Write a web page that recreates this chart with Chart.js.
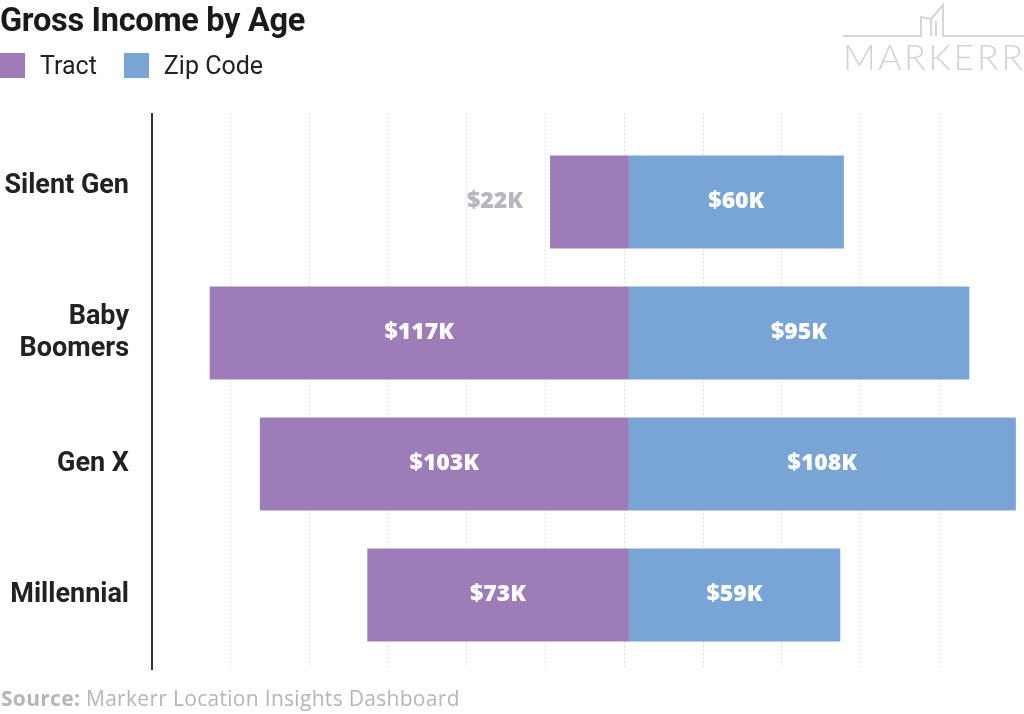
<!DOCTYPE html>
<html>
<head>
<meta charset="utf-8">
<script src="https://cdn.jsdelivr.net/npm/chart.js@4/dist/chart.umd.min.js"></script>
<style>
  html, body { margin: 0; padding: 0; background: #fff; }
  body { width: 1024px; height: 714px; position: relative; overflow: hidden; font-family: Roboto, sans-serif; }
  #chart { position: absolute; left: 0; top: 0; }
  .title { position: absolute; left: 0; top: 1px; font: 700 32.5px Roboto; color: #1a1a1a; letter-spacing: -0.3px; }
  .legend { position: absolute; left: 0; top: 51px; display: flex; align-items: center; font: 400 25px Roboto; color: #222; }
  .legend .sw { width: 25px; height: 25px; display: inline-block; margin-right: 15px; }
  .legend .item { display: flex; align-items: center; margin-right: 27px; }
  .source { position: absolute; left: 1px; top: 684px; font: 400 21px "Open Sans"; letter-spacing: 0.3px; color: #b3b6bb; }
  .source b { font-weight: 700; }
  #logo { position: absolute; left: 836px; top: 0; }
</style>
</head>
<body>
<canvas id="chart" width="1024" height="714"></canvas>
<div class="title">Gross Income by Age</div>
<div class="legend" id="legend"></div>
<svg id="logo" width="188" height="80" viewBox="836 0 188 80">
  <path d="M843,36 H921 V17 L931,19 V36 M931,19 L943,5 V36 H1024 M936,21 V36" fill="none" stroke="#d6d6d6" stroke-width="2"/>
  <text x="843" y="70" textLength="180" lengthAdjust="spacing" font-family="Lato" font-weight="300" font-size="36" fill="#d3d3d3">MARKERR</text>
</svg>
<div class="source"><b>Source:</b> Markerr Location Insights Dashboard</div>
<script>
// Data
const categories = [["Silent Gen", ""], ["Baby", "Boomers"], "Gen X", "Millennial"];
const tractValues = [22, 117, 103, 73];
const zipValues = [60, 95, 108, 59];
const seriesNames = ["Tract", "Zip Code"];
const seriesColors = ["#9e7cb8", "#78a4d6"];

// HTML legend
const legend = document.getElementById("legend");
seriesNames.forEach((name, i) => {
  const item = document.createElement("div");
  item.className = "item";
  item.innerHTML = '<span class="sw" style="background:' + seriesColors[i] + '"></span>' + name;
  legend.appendChild(item);
});

// Value labels inside the bars (outside when the bar is too short)
const valueLabels = {
  id: "valueLabels",
  afterDatasetsDraw(chart) {
    const ctx = chart.ctx;
    ctx.save();
    ctx.font = '800 23px "Open Sans"';
    ctx.textBaseline = "middle";
    chart.data.datasets.forEach((ds, di) => {
      const meta = chart.getDatasetMeta(di);
      meta.data.forEach((bar, i) => {
        const text = "$" + Math.abs(ds.data[i].x) + "K";
        const w = ctx.measureText(text).width;
        const barW = Math.abs(bar.x - bar.base);
        if (barW > w + 40) {
          ctx.fillStyle = "#ffffff";
          ctx.textAlign = "center";
          ctx.fillText(text, (bar.x + bar.base) / 2, bar.y - 1);
        } else {
          ctx.fillStyle = "#b5b8bd";
          ctx.textAlign = "right";
          ctx.fillText(text, Math.min(bar.x, bar.base) - 27, bar.y - 1);
        }
      });
    });
    ctx.restore();
  }
};

new Chart(document.getElementById("chart"), {
  type: "bar",
  data: {
    datasets: [
      {
        label: seriesNames[0],
        data: tractValues.map((v, i) => ({ x: -v, y: i })),
        backgroundColor: seriesColors[0]
      },
      {
        label: seriesNames[1],
        data: zipValues.map((v, i) => ({ x: v, y: i })),
        backgroundColor: seriesColors[1]
      }
    ]
  },
  options: {
    responsive: false,
    animation: false,
    indexAxis: "y",
    barPercentage: 0.71,
    categoryPercentage: 1,
    layout: { padding: { top: 114, bottom: 45, left: 0, right: 6 } },
    plugins: { legend: { display: false }, tooltip: { enabled: false } },
    scales: {
      x: { type: "linear", min: -133.1, max: 108.6, stacked: true, display: false },
      gridX: {
        type: "linear",
        axis: "x",
        position: "bottom",
        min: 0,
        max: 11,
        ticks: { display: false, stepSize: 1 },
        grid: {
          drawTicks: false,
          lineWidth: 1,
          color: c => (c.tick.value > 0 && c.tick.value < 11) ? "#c9c9c9" : "rgba(0,0,0,0)"
        },
        border: { display: false, dash: [1, 3] },
        afterFit: s => { s.height = 0; }
      },
      y: {
        type: "linear",
        reverse: true,
        offset: false,
        min: -0.672,
        max: 3.565,
        stacked: true,
        afterBuildTicks: s => { s.ticks = categories.map((c, i) => ({ value: i })); },
        ticks: {
          callback: v => categories[v],
          font: { family: "Roboto", weight: "700", size: 27, lineHeight: 1.2 },
          color: "#222",
          padding: 23
        },
        grid: { display: false, drawTicks: false },
        border: { display: true, color: "#333", width: 2 },
        // fixed axis width, and no extra room for the edge labels
        afterFit: s => { s.width = 152; s.paddingTop = 0; s.paddingBottom = 0; }
      }
    }
  },
  plugins: [valueLabels]
});
</script>
</body>
</html>
